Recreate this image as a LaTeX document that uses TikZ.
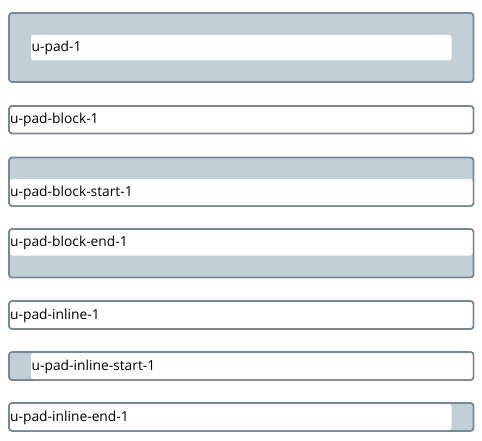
\documentclass[tikz,border=0pt]{standalone}
\usepackage{fontspec}
\setmainfont{Open Sans}
\definecolor{bordc}{HTML}{778899}
\definecolor{padc}{HTML}{C2CFD7}
\tikzset{
  x=1pt, y=-1pt,
  outerbox/.style={draw=bordc, line width=1.8pt, rounded corners=3pt, fill=padc},
  plainbox/.style={draw=bordc, line width=1.8pt, rounded corners=3pt, fill=white},
  innerbox/.style={fill=white, rounded corners=2.5pt},
  lbl/.style={anchor=west, inner sep=0pt, font=\fontsize{13.8}{16}\selectfont, text=black}
}
\begin{document}
\begin{tikzpicture}
\useasboundingbox (0,0) rectangle (482,441);
% box 1
\draw[outerbox] (9,13) rectangle (473.5,82);
\fill[innerbox] (31,35) rectangle (451.5,60.5);
\node[lbl] (p1) at (31.5,48) {u-pad-1};
% box 2
\draw[plainbox] (9,106) rectangle (473.5,133.5);
\node[lbl] (pb) at (10,120) {u-pad-block-1};
% box 3
\draw[outerbox] (9,157.5) rectangle (473.5,206);
\fill[innerbox] (10,179) rectangle (472.5,205);
\node[lbl] (pbs) at (10,192.5) {u-pad-block-start-1};
% box 4
\draw[outerbox] (9,229) rectangle (473.5,277.5);
\fill[innerbox] (10,230) rectangle (472.5,255.5);
\node[lbl] (pbe) at (10,243) {u-pad-block-end-1};
% box 5
\draw[plainbox] (9,301) rectangle (473.5,329);
\node[lbl] (pi) at (10,315.5) {u-pad-inline-1};
% box 6
\draw[outerbox] (9,352) rectangle (473.5,380);
\fill[innerbox] (31,353) rectangle (472.5,379);
\node[lbl] (pis) at (31.5,366.5) {u-pad-inline-start-1};
% box 7
\draw[outerbox] (9,403) rectangle (473.5,431);
\fill[innerbox] (10,404) rectangle (451.5,430);
\node[lbl] (pie) at (10,417.5) {u-pad-inline-end-1};
\end{tikzpicture}
\end{document}
